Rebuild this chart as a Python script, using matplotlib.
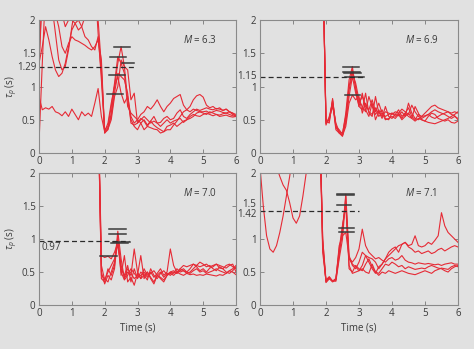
import numpy as np
import matplotlib.pyplot as plt
from matplotlib import transforms

plt.rcParams['font.family'] = ['Open Sans', 'DejaVu Sans']
plt.rcParams['font.size'] = 7
plt.rcParams['mathtext.fontset'] = 'custom'
plt.rcParams['mathtext.rm'] = 'Open Sans'
plt.rcParams['mathtext.it'] = 'Open Sans:italic'

# sample times (s)
t_full = np.round(np.arange(0, 6.05, 0.1), 1)    # 0.0 .. 6.0
t_19 = np.round(np.arange(1.9, 6.05, 0.1), 1)    # 1.9 .. 6.0
t_18 = np.round(np.arange(1.8, 6.05, 0.1), 1)    # 1.8 .. 6.0

# M = 6.3 (t_full)
m63_a = [0.85, 0.65, 0.68, 0.66, 0.70, 0.62, 0.60, 0.56, 0.62, 0.55,
         0.66, 0.58, 0.50, 0.62, 0.56, 0.60, 0.55, 0.75, 0.97, 0.55,
         0.32, 0.45, 0.75, 1.00, 1.15, 0.90, 0.75, 0.85, 0.55, 0.45,
         0.50, 0.58, 0.62, 0.70, 0.66, 0.72, 0.80, 0.70, 0.62, 0.70,
         0.75, 0.82, 0.85, 0.88, 0.72, 0.65, 0.70, 0.80, 0.86, 0.88,
         0.84, 0.72, 0.68, 0.70, 0.66, 0.68, 0.64, 0.66, 0.62, 0.60,
         0.58]
m63_b = [0.15, 1.35, 2.50, 2.60, 2.20, 1.80, 1.40, 1.25, 1.30, 1.55,
         1.90, 2.20, 2.40, 2.50, 2.40, 2.30, 2.20, 2.10, 2.00, 1.30,
         0.30, 0.35, 0.60, 1.00, 1.35, 1.60, 1.30, 0.80, 0.50, 0.40,
         0.35, 0.45, 0.50, 0.42, 0.48, 0.55, 0.45, 0.40, 0.45, 0.50,
         0.45, 0.48, 0.50, 0.52, 0.46, 0.50, 0.55, 0.58, 0.56, 0.55,
         0.58, 0.60, 0.58, 0.56, 0.58, 0.55, 0.56, 0.57, 0.55, 0.54,
         0.55]
m63_c = [1.35, 1.60, 1.90, 1.70, 1.45, 1.25, 1.15, 1.20, 1.35, 1.60,
         1.85, 1.95, 2.00, 1.90, 1.75, 1.70, 1.60, 1.55, 1.75, 1.20,
         0.35, 0.40, 0.70, 1.05, 1.45, 1.35, 1.20, 0.70, 0.60, 0.55,
         0.50, 0.45, 0.35, 0.40, 0.48, 0.42, 0.38, 0.35, 0.32, 0.40,
         0.42, 0.45, 0.40, 0.44, 0.48, 0.50, 0.52, 0.55, 0.60, 0.62,
         0.62, 0.63, 0.60, 0.62, 0.64, 0.63, 0.61, 0.60, 0.62, 0.58,
         0.56]
m63_d = [1.30, 2.40, 2.60, 2.50, 2.30, 2.10, 1.90, 1.60, 1.50, 1.65,
         1.75, 1.70, 1.68, 1.65, 1.62, 1.58, 1.55, 1.60, 1.70, 1.40,
         0.30, 0.38, 0.55, 0.90, 1.20, 1.15, 1.10, 0.90, 0.45, 0.42,
         0.45, 0.52, 0.48, 0.40, 0.38, 0.36, 0.35, 0.30, 0.32, 0.35,
         0.35, 0.42, 0.48, 0.55, 0.62, 0.65, 0.62, 0.66, 0.64, 0.62,
         0.60, 0.58, 0.62, 0.60, 0.58, 0.57, 0.59, 0.60, 0.58, 0.56,
         0.55]
m63_e = [1.35, 2.50, 2.70, 2.60, 2.50, 2.40, 2.30, 2.10, 1.90, 2.00,
         2.00, 1.95, 1.85, 1.90, 2.05, 2.30, 2.50, 2.60, 1.80, 1.10,
         0.32, 0.36, 0.50, 0.85, 1.00, 1.40, 1.30, 1.25, 0.80, 0.90,
         0.45, 0.50, 0.55, 0.50, 0.45, 0.48, 0.45, 0.46, 0.52, 0.55,
         0.50, 0.52, 0.60, 0.65, 0.55, 0.52, 0.58, 0.62, 0.66, 0.64,
         0.66, 0.68, 0.66, 0.65, 0.67, 0.66, 0.64, 0.66, 0.62, 0.60,
         0.55]

# M = 6.9 (t_19)
m69_a = [3.0,
         0.45, 0.50, 0.80, 0.40, 0.35, 0.28, 0.60, 1.10, 1.30, 0.95,
         0.75, 0.85, 0.70, 0.65, 0.80, 0.62, 0.75, 0.60, 0.55, 0.58,
         0.60, 0.55, 0.60, 0.52, 0.60, 0.68, 0.55, 0.50, 0.58, 0.55,
         0.60, 0.65, 0.70, 0.72, 0.68, 0.66, 0.64, 0.62, 0.60, 0.62,
         0.60]
m69_b = [3.0,
         0.42, 0.55, 0.75, 0.35, 0.30, 0.25, 0.50, 1.00, 1.25, 1.00,
         0.70, 0.65, 0.90, 0.60, 0.55, 0.85, 0.60, 0.65, 0.52, 0.50,
         0.60, 0.58, 0.65, 0.55, 0.60, 0.55, 0.52, 0.70, 0.60, 0.50,
         0.48, 0.55, 0.60, 0.58, 0.52, 0.50, 0.48, 0.50, 0.46, 0.45,
         0.48]
m69_c = [3.0,
         0.48, 0.45, 0.82, 0.38, 0.32, 0.30, 0.55, 0.95, 1.20, 1.05,
         0.80, 0.70, 0.62, 0.85, 0.70, 0.58, 0.65, 0.55, 0.62, 0.60,
         0.58, 0.62, 0.60, 0.66, 0.62, 0.58, 0.72, 0.62, 0.55, 0.52,
         0.55, 0.58, 0.62, 0.65, 0.62, 0.60, 0.58, 0.55, 0.52, 0.55,
         0.52]
m69_d = [3.0,
         0.50, 0.48, 0.78, 0.42, 0.30, 0.27, 0.45, 0.85, 1.15, 0.90,
         0.70, 0.90, 0.65, 0.55, 0.75, 0.50, 0.62, 0.52, 0.70, 0.55,
         0.52, 0.58, 0.56, 0.62, 0.55, 0.75, 0.60, 0.52, 0.50, 0.55,
         0.56, 0.58, 0.54, 0.52, 0.55, 0.58, 0.60, 0.62, 0.58, 0.56,
         0.50]
m69_e = [3.0,
         0.44, 0.52, 0.70, 0.45, 0.32, 0.26, 0.40, 0.75, 0.87, 0.80,
         0.85, 0.60, 0.75, 0.62, 0.58, 0.68, 0.55, 0.60, 0.50, 0.52,
         0.55, 0.52, 0.58, 0.50, 0.55, 0.60, 0.52, 0.48, 0.52, 0.50,
         0.48, 0.46, 0.45, 0.44, 0.46, 0.48, 0.50, 0.52, 0.55, 0.58,
         0.62]

# M = 7.0 (t_18)
m70_a = [3.0, 0.40,
         0.35, 0.55, 0.45, 0.60, 1.12, 0.70, 0.40, 0.50, 0.45, 0.85,
         0.50, 0.40, 0.55, 0.45, 0.50, 0.42, 0.48, 0.55, 0.45, 0.50,
         0.85, 0.60, 0.50, 0.55, 0.60, 0.58, 0.60, 0.62, 0.60, 0.58,
         0.60, 0.62, 0.58, 0.60, 0.62, 0.56, 0.55, 0.50, 0.48, 0.52,
         0.58]
m70_b = [3.0, 0.75,
         0.72, 0.74, 0.70, 0.80, 0.95, 0.60, 0.42, 0.55, 0.48, 0.40,
         0.45, 0.75, 0.40, 0.50, 0.42, 0.35, 0.45, 0.50, 0.42, 0.48,
         0.45, 0.50, 0.48, 0.52, 0.55, 0.50, 0.48, 0.52, 0.55, 0.50,
         0.52, 0.48, 0.50, 0.52, 0.55, 0.52, 0.50, 0.48, 0.52, 0.55,
         0.60]
m70_c = [3.0, 0.50,
         0.32, 0.45, 0.38, 0.55, 1.05, 0.45, 0.75, 0.35, 0.42, 0.30,
         0.48, 0.40, 0.45, 0.50, 0.40, 0.32, 0.45, 0.40, 0.35, 0.45,
         0.48, 0.45, 0.50, 0.47, 0.45, 0.48, 0.46, 0.47, 0.45, 0.46,
         0.45, 0.47, 0.46, 0.45, 0.44, 0.46, 0.45, 0.48, 0.52, 0.50,
         0.46]
m70_d = [3.0, 0.60,
         0.38, 0.50, 0.60, 0.70, 0.98, 0.55, 0.45, 0.60, 0.35, 0.55,
         0.40, 0.50, 0.45, 0.38, 0.55, 0.45, 0.40, 0.48, 0.52, 0.46,
         0.50, 0.48, 0.55, 0.50, 0.52, 0.48, 0.50, 0.55, 0.60, 0.65,
         0.62, 0.58, 0.60, 0.55, 0.52, 0.58, 0.55, 0.60, 0.62, 0.58,
         0.55]
m70_e = [3.0, 0.45,
         0.40, 0.35, 0.50, 0.65, 0.93, 0.50, 0.38, 0.45, 0.55, 0.48,
         0.42, 0.45, 0.50, 0.42, 0.48, 0.52, 0.45, 0.42, 0.38, 0.45,
         0.50, 0.52, 0.48, 0.55, 0.52, 0.50, 0.55, 0.62, 0.58, 0.52,
         0.55, 0.50, 0.56, 0.58, 0.62, 0.60, 0.58, 0.56, 0.60, 0.62,
         0.50]

# M = 7.1 (a, b on t_full; c, d, e on t_18)
m71_a = [2.10, 1.50, 1.05, 0.85, 0.80, 0.90, 1.10, 1.35, 1.65, 1.95,
         2.30, 2.60, 3.00, 3.00, 3.00, 3.00, 3.00, 3.00, 3.00, 0.90,
         0.36, 0.42, 0.36, 0.40, 0.80, 1.10, 1.68, 0.75, 0.60, 0.55,
         0.65, 0.80, 0.75, 0.72, 0.70, 0.65, 0.55, 0.62, 0.70, 0.75,
         0.80, 0.85, 0.90, 0.92, 0.95, 0.90, 0.92, 1.05, 0.90, 0.88,
         0.90, 0.95, 0.92, 0.98, 1.05, 1.40, 1.20, 1.10, 1.05, 1.00,
         0.95]
m71_b = [3.00, 3.00, 3.00, 3.00, 3.00, 2.10, 1.95, 1.82, 1.74, 1.55,
         1.32, 1.24, 1.35, 1.65, 2.00, 2.40, 3.00, 3.00, 3.00, 1.00,
         0.34, 0.40, 0.35, 0.38, 0.75, 1.20, 1.55, 0.70, 0.62, 0.58,
         0.52, 0.60, 0.75, 0.65, 0.55, 0.48, 0.58, 0.62, 0.70, 0.80,
         0.85, 0.88, 0.80, 0.92, 0.95, 0.88, 0.85, 0.80, 0.82, 0.78,
         0.80, 0.82, 0.78, 0.80, 0.84, 0.86, 0.82, 0.85, 0.88, 0.90,
         0.88]
m71_c = [3.0, 0.80,
         0.37, 0.42, 0.36, 0.38, 0.90, 1.05, 1.10, 0.72, 0.65, 0.72,
         0.85, 1.15, 0.90, 0.80, 0.75, 0.70, 0.72, 0.68, 0.65, 0.70,
         0.72, 0.68, 0.70, 0.75, 0.68, 0.65, 0.64, 0.62, 0.64, 0.63,
         0.62, 0.63, 0.62, 0.61, 0.62, 0.60, 0.62, 0.63, 0.64, 0.62,
         0.62]
m71_d = [3.0, 0.90,
         0.35, 0.40, 0.37, 0.36, 0.70, 1.00, 1.65, 0.55, 0.50, 0.60,
         0.55, 0.52, 0.62, 0.70, 0.58, 0.50, 0.48, 0.55, 0.62, 0.60,
         0.65, 0.62, 0.58, 0.60, 0.55, 0.58, 0.56, 0.54, 0.55, 0.56,
         0.55, 0.58, 0.60, 0.58, 0.56, 0.55, 0.52, 0.50, 0.55, 0.58,
         0.60]
m71_e = [3.0, 1.00,
         0.38, 0.43, 0.36, 0.40, 0.85, 1.20, 1.50, 0.60, 0.48, 0.50,
         0.52, 0.55, 0.50, 0.48, 0.62, 0.50, 0.45, 0.50, 0.48, 0.52,
         0.50, 0.48, 0.50, 0.52, 0.50, 0.48, 0.47, 0.46, 0.48, 0.50,
         0.52, 0.50, 0.48, 0.52, 0.54, 0.56, 0.55, 0.54, 0.58, 0.60,
         0.58]

# peak bars: (tau, t start, t end)
bars_63 = [(1.60, 2.28, 2.77), (1.45, 2.16, 2.65), (1.35, 2.52, 2.89), (1.17, 2.13, 2.62), (0.88, 2.07, 2.56)]
bars_69 = [(1.30, 2.52, 3.01), (1.22, 2.52, 3.03), (1.20, 2.55, 3.05), (1.15, 2.58, 3.16), (0.87, 2.58, 3.02)]
bars_70 = [(1.15, 2.13, 2.65), (1.08, 2.13, 2.65), (0.96, 2.26, 2.77), (0.94, 2.20, 2.70), (0.74, 1.86, 2.38)]
bars_71 = [(1.69, 2.32, 2.85), (1.67, 2.32, 2.85), (1.52, 2.32, 2.77), (1.17, 2.40, 2.85), (1.10, 2.40, 2.85)]

# mean tau_p and the end of its dashed line
means = [1.29, 1.15, 0.97, 1.42]
mean_ends = [2.95, 3.16, 2.74, 3.01]
mags = ['6.3', '6.9', '7.0', '7.1']

red = '#e62a35'
bg = '#e1e1e1'

panels = [
    ([(t_full, m63_a), (t_full, m63_b), (t_full, m63_c), (t_full, m63_d), (t_full, m63_e)], bars_63),
    ([(t_19, m69_a), (t_19, m69_b), (t_19, m69_c), (t_19, m69_d), (t_19, m69_e)], bars_69),
    ([(t_18, m70_a), (t_18, m70_b), (t_18, m70_c), (t_18, m70_d), (t_18, m70_e)], bars_70),
    ([(t_full, m71_a), (t_full, m71_b), (t_18, m71_c), (t_18, m71_d), (t_18, m71_e)], bars_71),
]

rects = [[0.0823, 0.5616, 0.4156, 0.381],
         [0.5485, 0.5616, 0.4177, 0.381],
         [0.0823, 0.126, 0.4156, 0.378],
         [0.5485, 0.126, 0.4177, 0.378]]

fig = plt.figure(figsize=(4.74, 3.49), dpi=100, facecolor=bg)

for i, (curves, bars) in enumerate(panels):
    ax = fig.add_axes(rects[i])
    ax.set_facecolor(bg)
    for t, tau in curves:
        ax.plot(t, tau, color=red, lw=0.8)
    for y, x0, x1 in bars:
        ax.plot([x0, x1], [y, y], color='#3a3a3a', lw=1.1)
    ax.plot([0, mean_ends[i]], [means[i], means[i]], color='#2a2a2a', lw=0.9, dashes=(4, 2.5))

    ax.set_xlim(0, 6)
    ax.set_ylim(0, 2)
    ax.set_xticks(range(7))
    ax.set_yticks([0, 0.5, 1, 1.5, 2])
    ax.set_yticklabels(['0', '0.5', '1', '1.5', '2'])
    ax.tick_params(direction='in', top=True, right=True, length=3, width=0.6,
                   color='#777777', labelcolor='#3a3a3a', pad=2.5)
    for s in ax.spines.values():
        s.set_color('#8a8a8a')
        s.set_linewidth(0.8)

    ax.text(4.9, 1.7, '$M$ = ' + mags[i], ha='center', va='center', color='#3a3a3a')

    trans = transforms.blended_transform_factory(ax.transAxes, ax.transData)
    if i == 2:
        ax.text(0.08, means[i] - 0.1, '%.2f' % means[i], ha='left', va='center', color='#3a3a3a')
    elif i == 3:
        # nudge the 1.5 label up so 1.42 fits under it
        lab = ax.get_yticklabels()[3]
        lab.set_transform(lab.get_transform() + transforms.ScaledTranslation(0, 2 / 72, fig.dpi_scale_trans))
        ax.text(-0.015, means[i] - 0.055, '%.2f' % means[i], transform=trans,
                ha='right', va='center', color='#3a3a3a')
    else:
        ax.text(-0.015, means[i], '%.2f' % means[i], transform=trans,
                ha='right', va='center', color='#3a3a3a')

    if i % 2 == 0:
        ax.set_ylabel(r'$\tau_p$ (s)', color='#3a3a3a', labelpad=2)
    if i >= 2:
        ax.set_xlabel('Time (s)', color='#3a3a3a', labelpad=2)

plt.savefig('out.png', dpi=100, facecolor=bg)
